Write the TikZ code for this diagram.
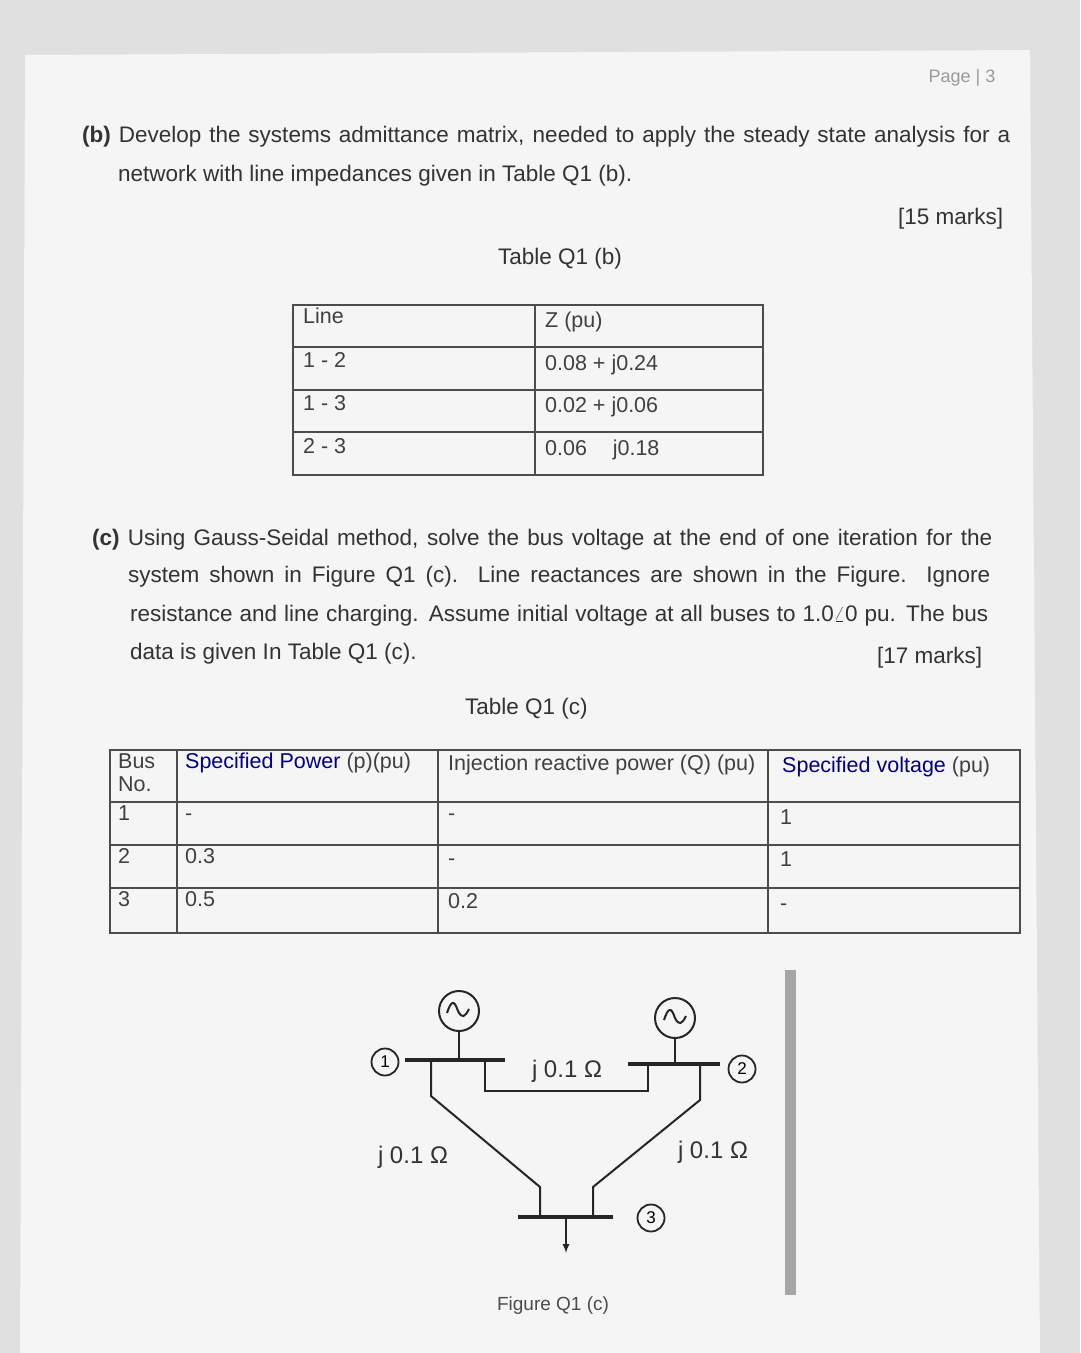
\documentclass[tikz,border=0pt]{standalone}
\usepackage{fontspec}
\setmainfont{Liberation Sans}
\begin{document}
\begin{tikzpicture}[x=1pt,y=-1pt,
  txt/.style={anchor=base west,inner sep=0,text=black!80,font=\fontsize{22.5}{26}\selectfont},
  cell/.style={anchor=base west,inner sep=0,text=black!75,font=\fontsize{21.5}{24}\selectfont},
  tline/.style={draw=black!70,line width=1.2},
  wire/.style={draw=black!85,line width=2},
  bar/.style={draw=black!85,line width=3.5},
  busno/.style={circle,draw=black!85,line width=1.8,minimum size=27,inner sep=0,font=\fontsize{17}{17}\selectfont},
  gen/.style={circle,draw=black!85,line width=2,minimum size=40,inner sep=0},
  lab/.style={inner sep=0,text=black!80,font=\fontsize{24}{26}\selectfont}]
\useasboundingbox (0,0) rectangle (1080,1353);
\fill[black!12] (0,0) rectangle (1080,1353);
\fill[black!4] (25,55) -- (1030,50) -- (1040,1353) -- (20,1353) -- cycle;
\node[inner sep=0,text=black!40,font=\fontsize{18}{20}\selectfont] (pg) at (962,78) {Page | 3};
\node[txt] (b1) at (82,142) {\makebox[928pt][s]{\textbf{(b)} Develop the systems admittance matrix, needed to apply the steady state analysis for a}};
\node[txt] (b2) at (118,181) {network with line impedances given in Table Q1 (b).};
\node[txt] (m15) at (898,224) {[15 marks]};
\node[txt] (tb) at (498,264) {Table Q1 (b)};
% table b
\draw[tline] (293,305) rectangle (763,475);
\foreach \y in {347,390,432} \draw[tline] (293,\y) -- (763,\y);
\draw[tline] (535,305) -- (535,475);
\node[cell] (l0) at (303,323) {Line};
\node[cell] (z0) at (545,327) {Z (pu)};
\node[cell] (l1) at (303,367) {1 - 2};
\node[cell] (z1) at (545,370) {0.08 + j0.24};
\node[cell] (l2) at (303,410) {1 - 3};
\node[cell] (z2) at (545,412) {0.02 + j0.06};
\node[cell] (l3) at (303,453) {2 - 3};
\node[cell] (z3) at (545,455) {0.06\hspace{1.2em}j0.18};
% part c
\node[txt] (c1) at (92,545) {\makebox[900pt][s]{\textbf{(c)} Using Gauss-Seidal method, solve the bus voltage at the end of one iteration for the}};
\node[txt] (c2) at (128,582) {\makebox[862pt][s]{system shown in Figure Q1 (c). Line reactances are shown in the Figure. Ignore}};
\node[txt] (c3) at (130,621) {\makebox[858pt][s]{resistance and line charging. Assume initial voltage at all buses to 1.0$\angle$0 pu. The bus}};
\node[txt] (c4) at (130,659) {data is given In Table Q1 (c).};
\node[txt] (m17) at (877,663) {[17 marks]};
\node[txt] (tc) at (465,714) {Table Q1 (c)};
% table c
\draw[tline] (110,750) rectangle (1020,933);
\foreach \y in {802,845,888} \draw[tline] (110,\y) -- (1020,\y);
\foreach \x in {177,438,768} \draw[tline] (\x,750) -- (\x,933);
\node[cell] (h1) at (118,768) {Bus};
\node[cell] (h1b) at (118,791) {No.};
\node[cell] (h2) at (185,768) {\textcolor{blue!50!black}{Specified  Power} (p)(pu)};
\node[cell] (h3) at (448,770) {Injection reactive power (Q) (pu)};
\node[cell] (h4) at (782,772) {\textcolor{blue!50!black}{Specified  voltage} (pu)};
\node[cell] (r1a) at (118,820) {1};
\node[cell] (r1b) at (185,820) {-};
\node[cell] (r1c) at (448,820) {-};
\node[cell] (r1d) at (780,824) {1};
\node[cell] (r2a) at (118,863) {2};
\node[cell] (r2b) at (185,863) {0.3};
\node[cell] (r2c) at (448,865) {-};
\node[cell] (r2d) at (780,866) {1};
\node[cell] (r3a) at (118,906) {3};
\node[cell] (r3b) at (185,906) {0.5};
\node[cell] (r3c) at (448,908) {0.2};
\node[cell] (r3d) at (780,910) {-};
% circuit
\fill[black!35] (785,970) rectangle (796,1295);
\coordinate (b1l) at (405,1060); \coordinate (b1r) at (505,1060);
\coordinate (b2l) at (628,1064); \coordinate (b2r) at (720,1064);
\coordinate (b3l) at (518,1217); \coordinate (b3r) at (613,1217);
\draw[bar] (b1l) -- (b1r);
\draw[bar] (b2l) -- (b2r);
\draw[bar] (b3l) -- (b3r);
\node[gen] (g1) at (459,1011) {};
\node[gen] (g2) at (675,1018) {};
\draw[wire] (g1.south) -- (459,1060);
\draw[wire] (g2.south) -- (675,1064);
\draw[wire] ([xshift=-12]g1.center) ++(0,2) .. controls +(4,-12) and +(-4,-12) .. +(11,-2) .. controls +(4,8) and +(-4,8) .. +(22,-4);
\draw[wire] ([xshift=-11]g2.center) ++(0,2) .. controls +(4,-12) and +(-4,-12) .. +(11,-2) .. controls +(4,8) and +(-4,8) .. +(22,-4);
\node[busno] (n1) at (385,1062) {1};
\node[busno] (n2) at (742,1069) {2};
\node[busno] (n3) at (651,1218) {3};
\draw[wire] (485,1060) -- (485,1091) -- (648,1091) -- (648,1064);
\draw[wire] (431,1060) -- (431,1096) -- (540,1187) -- (540,1217);
\draw[wire] (700,1064) -- (700,1100) -- (593,1187) -- (593,1217);
\draw[wire,-latex] (566,1217) -- (566,1253);
\node[lab] (x12) at (567,1071) {j 0.1 Ω};
\node[lab] (x13) at (413,1157) {j 0.1 Ω};
\node[lab] (x23) at (713,1152) {j 0.1 Ω};
\node[inner sep=0,text=black!70,font=\fontsize{19}{20}\selectfont] (fig) at (553,1306) {Figure Q1 (c)};
\end{tikzpicture}
\end{document}
